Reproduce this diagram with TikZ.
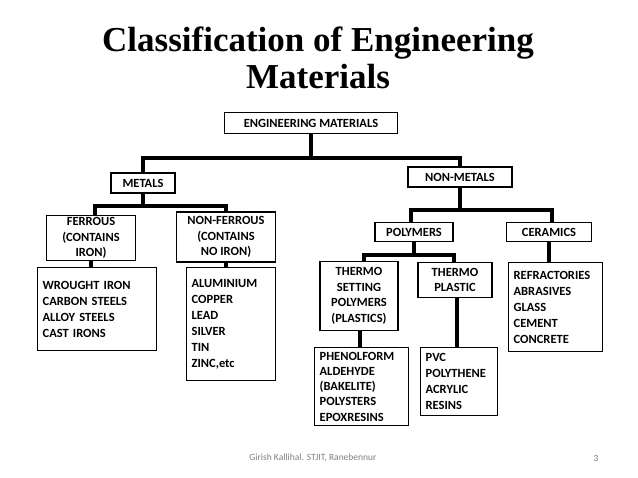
\documentclass[tikz,border=0pt]{standalone}
\usepackage{fontspec}
\setmainfont{Carlito}
\newfontfamily\titlefont{Liberation Serif}
\usetikzlibrary{positioning}
\tikzset{
  box/.style={draw, line width=1.3pt, inner sep=1pt, align=center, font=\bfseries\fontsize{12.5}{15.5}\selectfont},
  list/.style={box, align=left, anchor=north west, inner xsep=5pt, text width=#1, font=\bfseries\fontsize{12.5}{16}\selectfont},
  bus/.style={line width=3.5pt}
}
\begin{document}
\begin{tikzpicture}[x=1pt, y=-1pt]
\useasboundingbox (0,0) rectangle (638,478);
% title
\node (title) at (318,63) {\titlefont\bfseries\fontsize{35}{37}\selectfont\begin{tabular}{c}Classification of Engineering\\Materials\end{tabular}};
% boxes
\node[box, minimum width=173pt, minimum height=21pt] (em) at (311,123) {ENGINEERING MATERIALS};
\node[box, minimum width=64pt, minimum height=20pt] (met) at (143,183) {METALS};
\node[box, minimum width=104pt, minimum height=20pt] (nmet) at (460,177) {NON-METALS};
\node[box, minimum width=89pt, minimum height=45pt, inner sep=0pt] (fer) at (91,238) {FERROUS\\(CONTAINS\\IRON)};
\node[box, minimum width=99pt, minimum height=50pt] (nfer) at (226,237) {NON-FERROUS\\(CONTAINS\\NO IRON)};
\node[box, minimum width=78pt, minimum height=19pt] (poly) at (414,232) {POLYMERS};
\node[box, minimum width=85pt, minimum height=19pt] (cer) at (549,232) {CERAMICS};
\node[box, minimum width=78pt, minimum height=69pt] (tset) at (359,296) {THERMO\\SETTING\\POLYMERS\\(PLASTICS)};
\node[box, minimum width=74pt, minimum height=35pt] (tpl) at (455,280) {THERMO\\PLASTIC};
% lists
\node[list=109pt, minimum height=83pt] (ferl) at (37,267) {WROUGHT IRON\\CARBON STEELS\\ALLOY STEELS\\CAST IRONS};
\node[list=79pt, minimum height=113pt] (nferl) at (186,267) {ALUMINIUM\\COPPER\\LEAD\\SILVER\\TIN\\ZINC,etc};
\node[list=84pt, minimum height=89pt] (cerl) at (508,262) {REFRACTORIES\\ABRASIVES\\GLASS\\CEMENT\\CONCRETE};
\node[list=84pt, minimum height=78pt, inner ysep=0pt, font=\bfseries\fontsize{12.5}{15.2}\selectfont] (tsetl) at (314,347) {PHENOLFORM\\ALDEHYDE\\(BAKELITE)\\POLYSTERS\\EPOXRESINS};
\node[list=67pt, minimum height=68pt] (tpll) at (420,347) {PVC\\POLYTHENE\\ACRYLIC\\RESINS};
% connectors
\draw[bus] (em.south) -- (311,158) coordinate (b1);
\draw[bus] (met.north) |- (b1) -| (nmet.north);
\draw[bus] (met.south) -- (143,206) coordinate (b2);
\draw[bus] (fer.north -| 95,0) |- (b2) -| (nfer.north);
\draw[bus] (nmet.south) -- (460,210) coordinate (b3);
\draw[bus] (poly.north -| 411,0) |- (b3) -| (cer.north -| 552,0);
\draw[bus] (poly.south) -- (414,255) coordinate (b4);
\draw[bus] (tset.north -| 364,0) |- (b4) -| (tpl.north -| 454,0);
\draw[bus] (fer.south) -- (ferl.north -| fer.south);
\draw[bus] (nfer.south) -- (nferl.north -| nfer.south);
\draw[bus] (cer.south) -- (cerl.north -| cer.south);
\draw[bus] (tset.south -| 360,0) -- (tsetl.north -| 360,0);
\draw[bus] (tpl.south -| 457,0) -- (tpll.north -| 457,0);
% footer
\node[text=gray, font=\fontsize{9.5}{11}\selectfont] (foot) at (313,458) {Girish Kallihal. STJIT, Ranebennur};
\node[text=gray, font=\fontsize{9.5}{11}\selectfont] (pg) at (596,458) {3};
\end{tikzpicture}
\end{document}
